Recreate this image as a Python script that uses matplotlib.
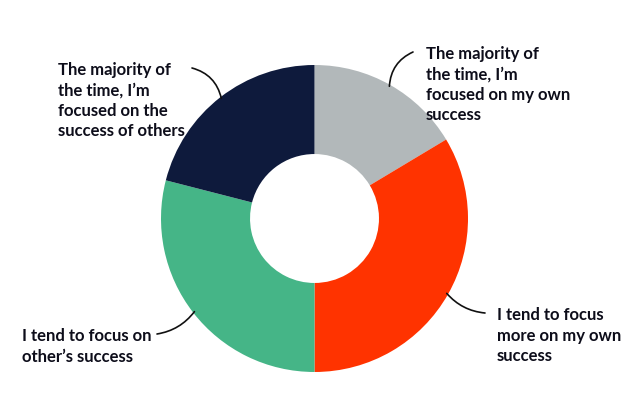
import matplotlib
matplotlib.use("Agg")
import matplotlib.pyplot as plt
import numpy as np

labels = [
    "The majority of\nthe time, I\u2019m\nfocused on my own\nsuccess",
    "I tend to focus\nmore on my own\nsuccess",
    "I tend to focus on\nother\u2019s success",
    "The majority of\nthe time, I\u2019m\nfocused on the\nsuccess of others",
]
values = [16.4, 33.6, 29, 21]
colors = ["#b2b8ba", "#ff3300", "#45b587", "#0e1a3c"]

# label layout (pixel coords of the figure, y from top)
W, H = 637, 420
CX, CY, R = 314.5, 218.5, 153.5
line_ends = [(413, 52), (485, 313), (157, 334), (192, 68)]
text_pos = [(426, 53), (497, 314), (22, 335), (58, 69)]
rads = [0.3, -0.2, 0.2, -0.3]


def px(x, y):
    return (x - CX) / R, (CY - y) / R


fig = plt.figure(figsize=(W / 100, H / 100), dpi=100)
ax = fig.add_axes([0, 0, 1, 1])
ax.axis("off")

wedges, _ = ax.pie(values, colors=colors, startangle=90, counterclock=False,
                   radius=1, wedgeprops=dict(width=0.58, linewidth=0),
                   frame=False)
ax.set_xlim(-CX / R, (W - CX) / R)
ax.set_ylim(-(H - CY) / R, CY / R)

for w, lab, le, tp, rad in zip(wedges, labels, line_ends, text_pos, rads):
    mid = np.deg2rad((w.theta1 + w.theta2) / 2)
    edge = (0.99 * np.cos(mid), 0.99 * np.sin(mid))
    ax.annotate("", xy=edge, xytext=px(*le),
                arrowprops=dict(arrowstyle="-", color="#111111", lw=1.2,
                                shrinkA=0, shrinkB=0,
                                connectionstyle=f"arc3,rad={rad}"))
    tx, ty = px(*tp)
    # first line centred on the leader end
    ax.text(tx, ty + 0.045, lab, ha="left", va="top", fontsize=12,
            family="Lato", fontweight="bold", color="#0d0d1a",
            linespacing=1.34)

fig.savefig("out.png", dpi=100)
